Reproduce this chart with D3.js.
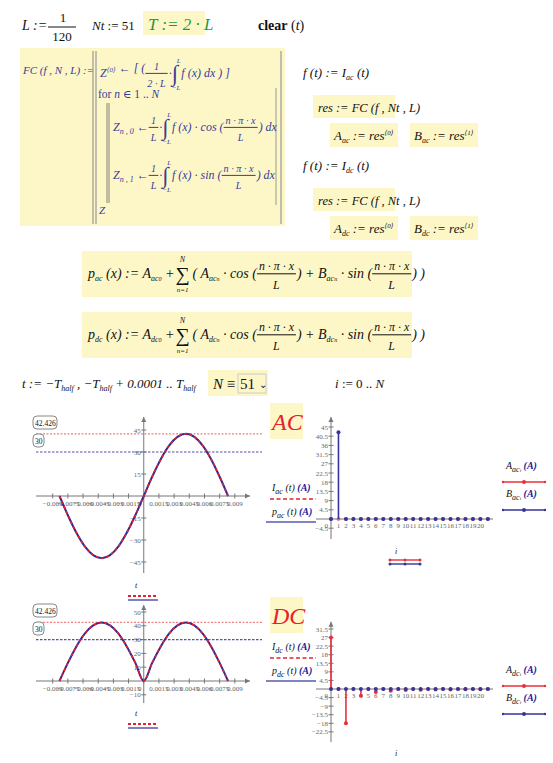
<!DOCTYPE html>
<html><head><meta charset="utf-8">
<script src="https://cdn.jsdelivr.net/npm/d3@7"></script>
<style>body{margin:0;background:#fff}svg{display:block}</style>
</head><body><svg id="c" width="553" height="763"></svg>
<script>
const tAC = [-0.00833,-0.0075,-0.00667,-0.00583,-0.005,-0.00417,-0.00333,-0.0025,-0.00167,-0.00083,0,0.00083,0.00167,0.0025,0.00333,0.00417,0.005,0.00583,0.00667,0.0075,0.00833];
const iAC = [0,-13.1,-24.9,-34.3,-40.3,-42.4,-40.3,-34.3,-24.9,-13.1,0,13.1,24.9,34.3,40.3,42.4,40.3,34.3,24.9,13.1,0];
const iDC = [0,13.1,24.9,34.3,40.3,42.4,40.3,34.3,24.9,13.1,0,13.1,24.9,34.3,40.3,42.4,40.3,34.3,24.9,13.1,0];
const idx = [0,1,2,3,4,5,6,7,8,9,10,11,12,13,14,15,16,17,18,19,20,21];
const A_ac = [0,0,0,0,0,0,0,0,0,0,0,0,0,0,0,0,0,0,0,0,0,0];
const B_ac = [0,42.426,0,0,0,0,0,0,0,0,0,0,0,0,0,0,0,0,0,0,0,0];
const A_dc = [27.01,0,-18.01,0,-3.6,0,-1.54,0,-0.86,0,-0.55,0,-0.38,0,-0.28,0,-0.21,0,-0.17,0,-0.14,0];
const B_dc = [0,0,0,0,0,0,0,0,0,0,0,0,0,0,0,0,0,0,0,0,0,0];
const xTicks = [-0.009,-0.0075,-0.006,-0.0045,-0.003,-0.0015,0,0.0015,0.003,0.0045,0.006,0.0075,0.009];
const yAcL = [-45,-30,-15,15,30,45];
const yDcL = [-10,10,20,30,40,50];
const yAcR = [-4.5,4.5,9,13.5,18,22.5,27,31.5,36,40.5,45];
const yDcR = [-22.5,-18,-13.5,-9,-4.5,4.5,9,13.5,18,22.5,27,31.5];
const iTicks = [1,2,3,4,5,6,7,8,9,10,11,12,13,14,15,16,17,18,19,20];
const thresholds = [42.426,30];

const svg = d3.select('#c');
const SER = 'Liberation Serif, DejaVu Serif, serif';
const YEL = '#fdf7c8';
function box(x,y,w,h){svg.append('rect').attr('x',x).attr('y',y).attr('width',w).attr('height',h).attr('fill',YEL);}
function tx(x,y,s,o={}){const t=svg.append('text').attr('x',x).attr('y',y).attr('font-family',SER).attr('font-size',o.size||13).attr('fill',o.fill||'#111').attr('font-style',o.it?'italic':'normal').attr('font-weight',o.b?'bold':'normal').attr('text-anchor',o.anchor||'start');t.html(s);return t;}
const sub=(s)=>`<tspan dy="3" font-size="8">${s}</tspan><tspan dy="-3"> </tspan>`;
const sup=(s)=>`<tspan dy="-5" font-size="7">${s}</tspan><tspan dy="5"></tspan>`;
function seq(x,y,parts,o={}){
  let cx=x; const size=o.size||13, fill=o.fill||'#111';
  parts.forEach(p=>{
    if(typeof p==='string'){const t=tx(cx,y,p,{it:true,size,fill});cx+=t.node().getComputedTextLength();}
    else if(p.f){const fs=size*0.85;
      const a=tx(0,y-size*0.6,p.f[0],{it:true,size:fs,fill}),b=tx(0,y+size*0.8,p.f[1],{it:true,size:fs,fill});
      const w=Math.max(a.node().getComputedTextLength(),b.node().getComputedTextLength())+4;
      a.attr('x',cx+w/2).attr('text-anchor','middle');b.attr('x',cx+w/2).attr('text-anchor','middle');
      svg.append('line').attr('x1',cx).attr('x2',cx+w).attr('y1',y-size*0.3).attr('y2',y-size*0.3).attr('stroke',fill);
      cx+=w+1;}
    else if(p.sum){tx(cx+8,y-size*1.15,'N',{it:true,size:8,anchor:'middle'});
      tx(cx+8,y+3,'∑',{size:20,anchor:'middle'});tx(cx+8,y+14,'n=1',{it:true,size:7,anchor:'middle'});cx+=18;}
    else if(p.int){tx(cx+5,y-size*1.2,'L',{it:true,size:7,fill});tx(cx,y+4,'∫',{size:size*1.9,fill});tx(cx,y+size*1.1,'−L',{it:true,size:7,fill});cx+=size*0.8;}
  });
  return cx;
}

tx(22,30,'L := ',{it:true,size:14});
tx(63,22,'1',{size:13,anchor:'middle'});
svg.append('line').attr('x1',48).attr('x2',76).attr('y1',27).attr('y2',27).attr('stroke','#111');
tx(62,41,'120',{size:13,anchor:'middle'});
tx(92,30,'<tspan font-style="italic">Nt</tspan> := 51',{size:13});
box(143,11,62,24); tx(148,30,'T := 2 · L',{it:true,size:17,fill:'#1a9a3a'});
tx(258,30,'<tspan font-weight="bold">clear</tspan> (<tspan font-style="italic">t</tspan>)',{size:14});

const BL='#3b3b9a';
box(20,48,265,178);
tx(23,74,'FC (f , N , L) :=',{it:true,size:11,fill:BL});
[[93,51,224],[96,51,224],[281,51,224]].forEach(([x,a,b])=>svg.append('line').attr('x1',x).attr('x2',x).attr('y1',a).attr('y2',b).attr('stroke','#999').attr('stroke-width',1.2));
[[107,103,203],[109,103,203]].forEach(([x,a,b])=>svg.append('line').attr('x1',x).attr('x2',x).attr('y1',a).attr('y2',b).attr('stroke','#666').attr('stroke-width',0.8));
svg.append('line').attr('x1',276).attr('x2',276).attr('y1',88).attr('y2',205).attr('stroke','#999');
seq(100,77,['Z'+sup('⟨0⟩')+' ← [ ( ',{f:['1','2 · L']},' · ',{int:1},' f (x) dx ) ]'],{size:12,fill:BL});
tx(98,98,'for  <tspan font-style="italic">n</tspan> ∈ 1 .. <tspan font-style="italic">N</tspan>',{size:11.5,fill:BL});
seq(113,131,['Z'+sub('n , 0')+' ← ',{f:['1','L']},' · ',{int:1},' f (x) · cos ( ',{f:['n · π · x','L']},' ) dx'],{size:12,fill:BL});
seq(113,179,['Z'+sub('n , 1')+' ← ',{f:['1','L']},' · ',{int:1},' f (x) · sin ( ',{f:['n · π · x','L']},' ) dx'],{size:12,fill:BL});
tx(99,214,'Z',{it:true,size:11,fill:BL});

function assignBlock(y0,tag){
  tx(303,y0,`f (t) := I${sub(tag)}(t)`,{it:true,size:13});
  box(313,y0+18,82,23); tx(318,y0+35,'res := FC (f , Nt , L)',{it:true,size:12.5});
  box(330,y0+46,68,24); tx(334,y0+63,`A${sub(tag)}:= res${sup('⟨0⟩')}`,{it:true,size:13});
  box(410,y0+46,68,24); tx(414,y0+63,`B${sub(tag)}:= res${sup('⟨1⟩')}`,{it:true,size:13});
}
assignBlock(77,'ac'); assignBlock(170,'dc');

function pForm(y,tag){
  box(82,y,330,46);
  seq(88,y+27,[`p${sub(tag)}(x) := A${sub(tag+'<tspan font-size="6">0</tspan>')}+ `,{sum:1},` ( A${sub(tag+'<tspan font-size="6">n</tspan>')}· cos ( `,{f:['n · π · x','L']},` ) + B${sub(tag+'<tspan font-size="6">n</tspan>')}· sin ( `,{f:['n · π · x','L']},' ) )'],{size:14});
}
pForm(251,'ac'); pForm(312,'dc');

tx(22,388,`t := −T${sub('half')}, −T${sub('half')}+ 0.0001 .. T${sub('half')}`,{it:true,size:13});
box(208,370,60,26); tx(213,389,'<tspan font-style="italic">N</tspan> ≡ ',{size:15});
svg.append('rect').attr('x',238).attr('y',374).attr('width',28).attr('height',19).attr('fill','none').attr('stroke','#ccc');
tx(240,389,'51',{size:15}); tx(259,388,'⌄',{size:10});
tx(335,388,'<tspan font-style="italic">i</tspan> := 0 .. <tspan font-style="italic">N</tspan>',{size:13});

function axes(xs,ys,x0,x1,y0,y1){
  const g=svg.append('g').attr('stroke','#777').attr('stroke-width',1);
  g.append('line').attr('x1',xs(x0)).attr('x2',xs(x1)).attr('y1',ys(0)).attr('y2',ys(0));
  g.append('line').attr('x1',xs(0)).attr('x2',xs(0)).attr('y1',ys(y1)).attr('y2',ys(y0));
}
function tline(x1,x2,y,col,dash,w){svg.append('line').attr('x1',x1).attr('x2',x2).attr('y1',y).attr('y2',y).attr('stroke',col).attr('stroke-width',w||1.2).attr('stroke-dasharray',dash);}

function timeChart(ys,vals,yt,yLo,yHi,labY,tY){
  const xs=d3.scaleLinear().domain([-0.01065,0.0105]).range([36,250]);
  tline(36,262,ys(thresholds[0]),'#f08080','2,1.5');
  tline(36,262,ys(thresholds[1]),'#5050b0','2.5,1.5');
  [[thresholds[0].toFixed(3),labY],[String(thresholds[1]),labY+18]].forEach(([s,y])=>{
    svg.append('rect').attr('x',33).attr('y',y-8).attr('width',s.length>3?24:11).attr('height',13).attr('rx',4).attr('fill','#fff').attr('stroke','#888');
    tx(35,y+2,s,{size:7.5});
  });
  axes(xs,ys,-0.01065,0.0105,yLo,yHi);
  svg.append('path').attr('d',`M${xs(0)-2.5},${ys(yHi)+5}L${xs(0)},${ys(yHi)}L${xs(0)+2.5},${ys(yHi)+5}`).attr('fill','#777');
  svg.append('path').attr('d',`M${xs(0.0105)-5},${ys(0)-2.5}L${xs(0.0105)},${ys(0)}L${xs(0.0105)-5},${ys(0)+2.5}`).attr('fill','#777');
  xTicks.forEach(v=>{svg.append('line').attr('x1',xs(v)).attr('x2',xs(v)).attr('y1',ys(0)-2.5).attr('y2',ys(0)+2.5).attr('stroke','#777');
    tx(xs(v)+(v===0?-4:0),ys(0)+10,v===0?'0':(v<0?'−'+(-v):String(v)),{size:7,fill:'#666',anchor:'middle'});});
  yt.forEach(v=>{svg.append('line').attr('x1',xs(0)-2.5).attr('x2',xs(0)+2.5).attr('y1',ys(v)).attr('y2',ys(v)).attr('stroke','#777');
    tx(xs(0)-3,ys(v)+2.5,v<0?'−'+(-v):String(v),{size:7,fill:'#666',anchor:'end'});});
  const line=d3.line().x((d,i)=>xs(tAC[i])).y(d=>ys(d)).curve(d3.curveCardinal);
  svg.append('path').attr('d',line(vals)).attr('fill','none').attr('stroke','#2a2a9a').attr('stroke-width',2);
  svg.append('path').attr('d',line(vals)).attr('fill','none').attr('stroke','#e8202a').attr('stroke-width',1.6).attr('stroke-dasharray','3,2.5');
  tx(135,tY,'t',{it:true,size:8});
  tline(128,158,tY+8,'#e8202a','3,2',2);
  tline(128,158,tY+12,'#2a2a9a',null);
}
timeChart(d3.scaleLinear().domain([0,45]).range([496,430]),iAC,yAcL,-52.5,53.9,424,588);
timeChart(d3.scaleLinear().domain([0,50]).range([681,612]),iDC,yDcL,-16,55,612,716);

function stemChart(ys,A,B,yt,yLo,yHi,title,ty,tag,legL,legR,iY){
  const xs=d3.scaleLinear().domain([0,1]).range([331,338.47]);
  box(270,ty,33,36); tx(272,ty+27,title,{it:true,size:24,fill:'#e8202a'});
  axes(xs,ys,-2,21.7,yLo,yHi);
  svg.append('path').attr('d',`M${xs(0)-2.5},${ys(yHi)+5}L${xs(0)},${ys(yHi)}L${xs(0)+2.5},${ys(yHi)+5}`).attr('fill','#777');
  iTicks.forEach(v=>{tx(xs(v),ys(0)+9,String(v),{size:7,fill:'#666',anchor:'middle'});});
  tx(xs(0)-3,ys(0)+9,'0',{size:7,fill:'#666',anchor:'end'});
  yt.forEach(v=>{svg.append('line').attr('x1',xs(0)-2.5).attr('x2',xs(0)+2.5).attr('y1',ys(v)).attr('y2',ys(v)).attr('stroke','#777');
    tx(xs(0)-3,ys(v)+2.5,v<0?'−'+(-v):String(v),{size:7,fill:'#666',anchor:'end'});});
  [[A,'#e8303a'],[B,'#34349a']].forEach(([arr,c])=>{
    idx.forEach(i=>{ if(arr[i]!==0) svg.append('line').attr('x1',xs(i)).attr('x2',xs(i)).attr('y1',ys(0)).attr('y2',ys(arr[i])).attr('stroke',c).attr('stroke-width',1.6);});
    idx.forEach(i=>svg.append('circle').attr('cx',xs(i)).attr('cy',ys(arr[i])).attr('r',2).attr('fill',c).attr('opacity',arr[i]===0&&c==='#e8303a'?0.6:1));
  });
  tx(272,legL,`I${sub(tag)}(t)  <tspan font-weight="bold" fill="#1a1a9a">(A)</tspan>`,{it:true,size:10});
  tline(270,316,legL+8,'#e8202a','4,2.5',1.6);
  tx(272,legL+24,`p${sub(tag)}(t)  <tspan font-weight="bold" fill="#1a1a9a">(A)</tspan>`,{it:true,size:10});
  tline(266,316,legL+31,'#5a5ab0',null,1.6);
  [[legR,'A','#e8303a'],[legR+28,'B','#34349a']].forEach(([y,n,c])=>{
    tx(506,y,`${n}${sub(tag+'<tspan font-size="5">i</tspan>')}  <tspan font-weight="bold" fill="#1a1a9a">(A)</tspan>`,{it:true,size:10});
    tline(503,545,y+13,c,null,1.4);
    [503,524,545].forEach(x=>svg.append('circle').attr('cx',x).attr('cy',y+13).attr('r',x===524?2:1.2).attr('fill',c));
  });
  tx(395,iY,'i',{it:true,size:8});
}
stemChart(d3.scaleLinear().domain([0,45]).range([519,427]),A_ac,B_ac,yAcR,-9.8,49.9,'AC',403,'ac',491,469,554);
stemChart(d3.scaleLinear().domain([0,31.5]).range([689,629]),A_dc,B_dc,yDcR,-27.9,35.3,'DC',597,'dc',650,673,756);
[[560,'#e8303a'],[564,'#34349a']].forEach(([y,c])=>{tline(390,420,y,c,null,1.4);
  [390,405,420].forEach(x=>svg.append('circle').attr('cx',x).attr('cy',y).attr('r',1.5).attr('fill',c));});
</script></body></html>
